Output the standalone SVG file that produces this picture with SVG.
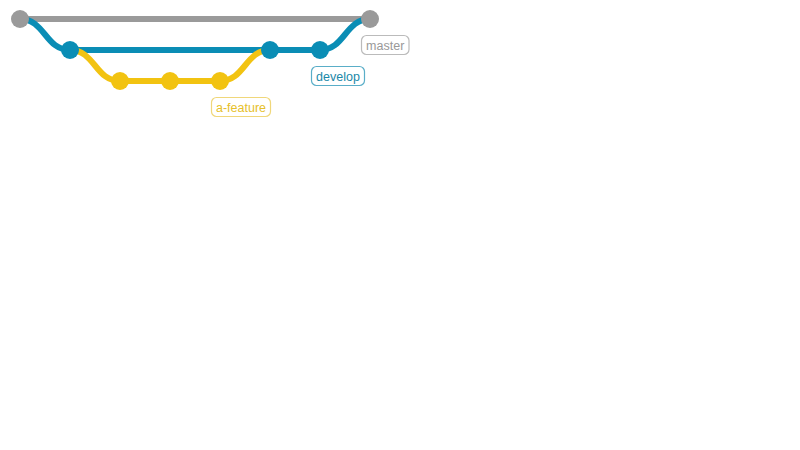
<svg xmlns="http://www.w3.org/2000/svg" width="800" height="450" viewBox="0 0 800 450">
<style>
.br{fill:none;stroke-width:6;stroke-linecap:round}
.m{stroke:#9a9a9a}
.d{stroke:#0a8db5}
.f{stroke:#f2c311}
.cm{fill:#9a9a9a}
.cd{fill:#0a8db5}
.cf{fill:#f2c311}
.lb{fill:#fff;stroke-width:1.2}
.lt{font-family:"Liberation Sans",Arial,sans-serif;font-size:12.5px;text-anchor:middle}
</style>
<rect width="800" height="450" fill="#fff"/>
<g id="connectors">
<path class="br m" d="M20,19 H370"/>
<path class="br d" d="M20,19 C45,19 45,50 70,50 H320 C345,50 345,19 370,19"/>
<path class="br f" d="M70,50 C95,50 95,81 120,81 H220 C245,81 245,50 270,50"/>
</g>
<g id="master-1"><circle class="cm" cx="20" cy="19" r="9"/></g>
<g id="master-2"><circle class="cm" cx="370" cy="19" r="9"/></g>
<g id="develop-1"><circle class="cd" cx="70" cy="50" r="9"/></g>
<g id="develop-2"><circle class="cd" cx="270" cy="50" r="9"/></g>
<g id="develop-3"><circle class="cd" cx="320" cy="50" r="9"/></g>
<g id="feature-1"><circle class="cf" cx="120" cy="81" r="9"/></g>
<g id="feature-2"><circle class="cf" cx="170" cy="81" r="9"/></g>
<g id="feature-3"><circle class="cf" cx="220" cy="81" r="9"/></g>
<g id="label-master">
<rect class="lb" x="361.5" y="35.5" width="47.5" height="19" rx="5" stroke="#bbbbbb"/>
<text class="lt" x="385.2" y="49.5" fill="#999999">master</text>
</g>
<g id="label-develop">
<rect class="lb" x="311.5" y="66.5" width="53" height="19" rx="5" stroke="#5aaec8"/>
<text class="lt" x="338" y="80.5" fill="#1a88a8">develop</text>
</g>
<g id="label-feature">
<rect class="lb" x="211.5" y="97.5" width="59" height="19" rx="5" stroke="#f0d77a"/>
<text class="lt" x="241" y="111.5" fill="#e6c02a">a-feature</text>
</g>
</svg>
